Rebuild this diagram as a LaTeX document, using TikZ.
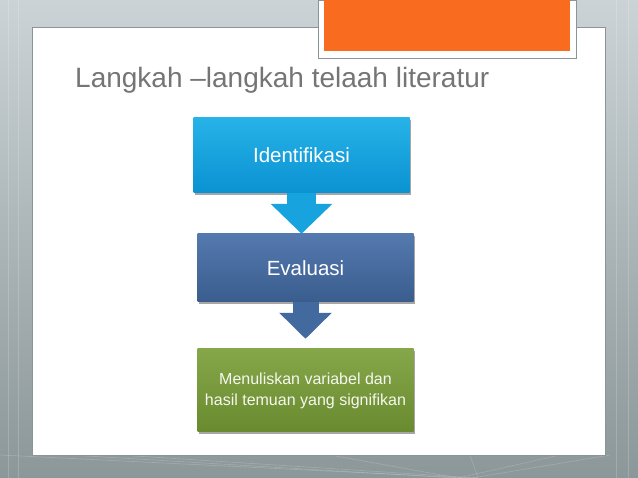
\documentclass[tikz,border=0pt]{standalone}
\usepackage[svgnames]{xcolor}
\usepackage{fontspec}
\setmainfont{Liberation Sans}
\usetikzlibrary{arrows.meta,shadows}
\definecolor{slidetop}{HTML}{CBD3D6}
\definecolor{slidebot}{HTML}{8C979A}
\definecolor{frameline}{HTML}{8A9598}
\definecolor{accent}{HTML}{F96B1E}
\definecolor{titlegray}{HTML}{757575}
\definecolor{idfA}{HTML}{27B3E8}
\definecolor{idfB}{HTML}{0A92D2}
\definecolor{idfArrow}{HTML}{17A3DE}
\definecolor{evaA}{HTML}{5479AE}
\definecolor{evaB}{HTML}{3A5D8E}
\definecolor{evaArrow}{HTML}{436A9E}
\definecolor{resA}{HTML}{86A64A}
\definecolor{resB}{HTML}{6A8A2F}

\begin{document}
\begin{tikzpicture}[x=1pt,y=-1pt,
  stepbox/.style={minimum width=216pt, inner sep=0pt, text=white,
    font=\fontsize{20.5}{24}\selectfont,
    drop shadow={shadow xshift=1.5pt, shadow yshift=-2.5pt, opacity=.35, fill=black}},
  blockarrow/.style={line width=#1},
  texture/.style={white, opacity=.18, line width=.6pt}
]
\useasboundingbox (0,0) rectangle (638,478);
% slide background
\shade[top color=slidetop, bottom color=slidebot] (0,0) rectangle (638,478);
\foreach \a/\b in {0/470,70/455,120/478,330/458,470/478,560/458,610/472}
  \draw[texture] (\a,455) -- (\b,478);
\foreach \x in {8,18,616,628}
  \draw[texture] (\x,0) -- (\x,478);
\filldraw[fill=white, draw=frameline, line width=.8pt] (32,27) rectangle (605,455);
\filldraw[fill=white, draw=frameline, line width=.8pt] (318,0) rectangle (576,58);
\fill[accent] (324,0) rectangle (570,51);
\node[anchor=base west, text=titlegray, font=\fontsize{28}{32}\selectfont, inner sep=0pt]
  (title) at (75,88) {Langkah –langkah telaah literatur};

% steps
\node[stepbox, minimum height=75pt, top color=idfA, bottom color=idfB] (idf) at (301.5,155) {Identifikasi};
\node[stepbox, minimum height=68pt, top color=evaA, bottom color=evaB] (eva) at (305.5,268) {Evaluasi};
\node[stepbox, minimum height=83pt, top color=resA, bottom color=resB, align=center,
  text=white!92!resA, font=\fontsize{16}{21}\selectfont] (res) at (305.5,390.5)
  {Menuliskan variabel dan\\hasil temuan yang signifikan};

\draw[blockarrow=29pt, idfArrow, -{Triangle[width=60pt,length=30pt]}] (idf.south) -- (idf.south |- eva.north);
\draw[blockarrow=26pt, evaArrow, shorten >=10pt, -{Triangle[width=51pt,length=26pt]}] (eva.south) -- (res.north);
\end{tikzpicture}
\end{document}
